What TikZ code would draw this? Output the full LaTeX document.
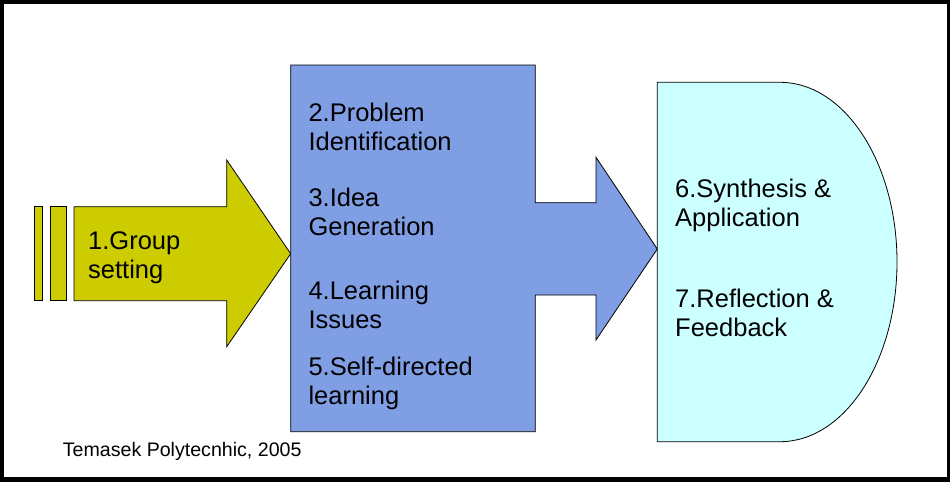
\documentclass[tikz,border=0pt]{standalone}
\usepackage{fontspec}
\setmainfont{Liberation Sans}
\definecolor{olivey}{RGB}{204,204,0}
\definecolor{boxblue}{RGB}{128,158,228}
\definecolor{lightcyan}{RGB}{204,255,255}
\begin{document}
\begin{tikzpicture}[x=1pt,y=-1pt,
  shapeline/.style={draw=black,line width=0.8pt,line join=miter},
  lbl/.style={anchor=base west,inner sep=0pt,align=left,font=\fontsize{25.5}{29}\selectfont},
  credit/.style={anchor=base west,inner sep=0pt,font=\fontsize{19.6}{23}\selectfont}]
% frame
\fill[black] (0,0) rectangle (950,482);
\fill[white] (4,4) rectangle (946.5,477);
\useasboundingbox (0,0) rectangle (950,482);
% yellow arrow
\draw[shapeline,fill=olivey] (34.3,206.7) rectangle (42.3,300.7);
\draw[shapeline,fill=olivey] (50,206.7) rectangle (66,300.7);
\draw[shapeline,fill=olivey] (74,206.7) -- (226.7,206.7) -- (226.7,160) -- (290.7,253.7)
  -- (226.7,346.7) -- (226.7,300.7) -- (74,300.7) -- cycle;
% blue box with arrow
\draw[shapeline,fill=boxblue] (290.7,65) -- (535.3,65) -- (535.3,202.7) -- (596,202.7)
  -- (596,157.3) -- (657.3,249) -- (596,340) -- (596,295) -- (535.3,295)
  -- (535.3,431.7) -- (290.7,431.7) -- cycle;
% cyan delay shape
\draw[shapeline,fill=lightcyan] (657.3,82.3) -- (780,82.3)
  arc[start angle=90,end angle=-90,x radius=117,y radius=-179.7]
  -- (657.3,441.7) -- cycle;
% labels (anchored at the baseline of the last line)
\node[lbl] (g1) at (88,278) {1.Group\\setting};
\node[lbl] (g2) at (308.3,150) {2.Problem\\Identification};
\node[lbl] (g3) at (308.3,235) {3.Idea\\Generation};
\node[lbl] (g4) at (308.3,328) {4.Learning\\Issues};
\node[lbl] (g5) at (308.3,404) {5.Self-directed\\learning};
\node[lbl] (g6) at (675,226.7) {6.Synthesis \&\\Application};
\node[lbl] (g7) at (675,336.7) {7.Reflection \&\\Feedback};
\node[credit] (src) at (62.7,456.7) {Temasek Polytecnhic, 2005};
\end{tikzpicture}
\end{document}
